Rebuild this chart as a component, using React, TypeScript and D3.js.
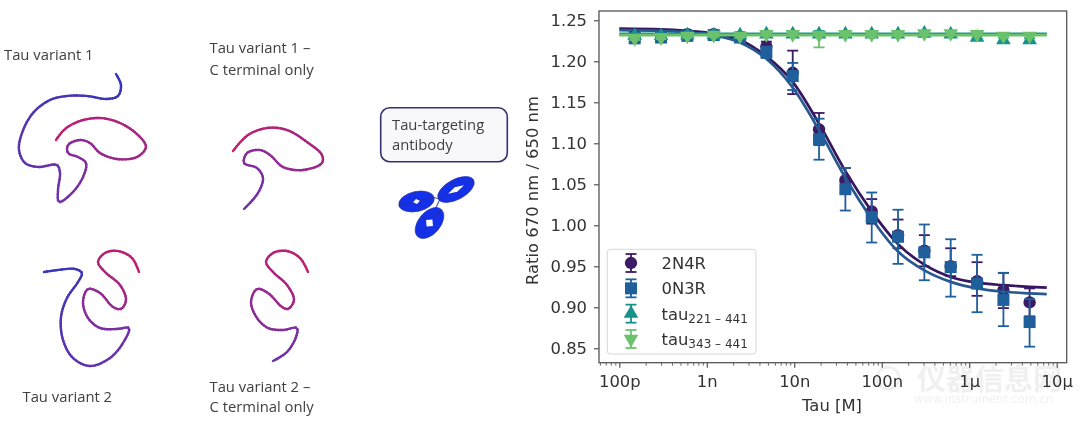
import React, { useEffect, useRef } from 'react';
import * as d3 from 'd3';

// dilution series, molar
const conc = [1.5e-10, 3e-10, 6e-10, 1.2e-9, 2.4e-9, 4.8e-9, 9.6e-9, 1.92e-8, 3.84e-8, 7.68e-8, 1.536e-7, 3.07e-7, 6.14e-7, 1.23e-6, 2.46e-6, 4.9e-6];

const mean2N4R = [1.233, 1.232, 1.233, 1.233, 1.230, 1.218, 1.186, 1.117, 1.055, 1.017, 0.988, 0.969, 0.950, 0.932, 0.921, 0.906];
const low2N4R = [1.229, 1.228, 1.230, 1.230, 1.226, 1.210, 1.160, 1.098, 1.040, 1.002, 0.972, 0.950, 0.938, 0.914, 0.899, 0.889];
const high2N4R = [1.237, 1.236, 1.236, 1.236, 1.234, 1.224, 1.213, 1.137, 1.070, 1.032, 1.007, 0.988, 0.972, 0.955, 0.942, 0.923];

const mean0N3R = [1.228, 1.229, 1.231, 1.232, 1.229, 1.211, 1.182, 1.105, 1.044, 1.010, 0.986, 0.967, 0.949, 0.929, 0.909, 0.882];
const low0N3R = [1.225, 1.226, 1.228, 1.229, 1.226, 1.204, 1.165, 1.080, 1.018, 0.979, 0.953, 0.933, 0.913, 0.894, 0.877, 0.852];
const high0N3R = [1.231, 1.232, 1.234, 1.235, 1.232, 1.218, 1.198, 1.130, 1.070, 1.040, 1.019, 1.001, 0.983, 0.964, 0.942, 0.910];

const mean221 = [1.231, 1.231, 1.232, 1.232, 1.232, 1.233, 1.233, 1.233, 1.233, 1.233, 1.233, 1.234, 1.233, 1.229, 1.226, 1.226];
const low221 = [1.229, 1.229, 1.230, 1.230, 1.230, 1.231, 1.231, 1.231, 1.231, 1.231, 1.231, 1.232, 1.231, 1.227, 1.223, 1.224];
const high221 = [1.233, 1.233, 1.234, 1.234, 1.234, 1.235, 1.235, 1.237, 1.235, 1.235, 1.235, 1.236, 1.235, 1.231, 1.229, 1.228];

const mean343 = [1.228, 1.229, 1.231, 1.232, 1.231, 1.233, 1.233, 1.232, 1.233, 1.233, 1.233, 1.234, 1.234, 1.233, 1.231, 1.231];
const low343 = [1.226, 1.227, 1.229, 1.230, 1.229, 1.231, 1.231, 1.217, 1.231, 1.229, 1.231, 1.232, 1.232, 1.231, 1.229, 1.229];
const high343 = [1.230, 1.231, 1.233, 1.234, 1.233, 1.235, 1.235, 1.235, 1.235, 1.235, 1.235, 1.236, 1.236, 1.235, 1.233, 1.233];

// fitted curves at these concentrations
const fitConc = [1e-10, 3e-10, 6e-10, 1.2e-9, 2.4e-9, 4.8e-9, 9.6e-9, 1.92e-8, 3.84e-8, 7.68e-8, 1.536e-7, 3.07e-7, 6.14e-7, 1.23e-6, 2.46e-6, 4.9e-6, 7.7e-6];
const fit2N4R = [1.240, 1.239, 1.237, 1.234, 1.226, 1.206, 1.175, 1.124, 1.066, 1.017, 0.977, 0.952, 0.937, 0.930, 0.927, 0.925, 0.924];
const fit0N3R = [1.238, 1.237, 1.235, 1.232, 1.223, 1.203, 1.168, 1.116, 1.058, 1.008, 0.968, 0.945, 0.931, 0.923, 0.919, 0.917, 0.916];
const flatConc = [1e-10, 7.7e-6];
const fit221 = [1.2335, 1.2335];
const fit343 = [1.2318, 1.2318];

const yTicks = [0.85, 0.9, 0.95, 1.0, 1.05, 1.1, 1.15, 1.2, 1.25];
const xTicks = [1e-10, 1e-9, 1e-8, 1e-7, 1e-6, 1e-5];
const xTickLabels = ['100p', '1n', '10n', '100n', '1µ', '10µ'];

// protein cartoons, traced from N end to C end
const tau1: [number, number][] = [[116, 74], [121, 85], [118, 96], [107, 99], [87, 96], [67, 96], [50, 100], [33, 113], [22, 133], [19, 150], [25, 163], [38, 167], [57, 165], [60, 173], [58, 190], [59, 202], [72, 193], [83, 177], [86, 163], [78, 157], [68, 153], [68, 145], [80, 140], [90, 143], [100, 153], [117, 159], [137, 157], [146, 147], [138, 135], [120, 123], [100, 118], [80, 121], [65, 129], [56, 140]];
const tau1C: [number, number][] = [[244, 209], [258, 193], [263, 178], [257, 168], [244, 163], [247, 153], [260, 150], [270, 155], [283, 167], [303, 170], [322, 163], [322, 155], [307, 142], [287, 130], [267, 128], [248, 135], [233, 151]];
const tau2: [number, number][] = [[44, 272], [58, 270], [75, 269], [82, 273], [78, 282], [67, 298], [61, 317], [63, 340], [73, 358], [90, 366], [110, 358], [123, 343], [129, 328], [117, 329], [100, 328], [88, 318], [83, 302], [88, 289], [100, 293], [113, 307], [121, 309], [126, 300], [120, 285], [105, 272], [98, 262], [105, 253], [118, 251], [132, 258], [139, 272]];
const tau2C: [number, number][] = [[273, 361], [287, 352], [296, 337], [297, 328], [283, 330], [268, 328], [257, 318], [251, 302], [257, 289], [268, 293], [282, 307], [288, 309], [294, 300], [287, 285], [273, 272], [266, 262], [273, 253], [287, 251], [300, 258], [308, 272]];

const TEXT = '#333333';
const SLIDE_TEXT = '#404040';
const FONT = '"DejaVu Sans", sans-serif';
const SLIDE_FONT = '"Open Sans", sans-serif';

export default function App() {
  const svgRef = useRef<SVGSVGElement | null>(null);

  useEffect(() => {
    const svg = d3.select(svgRef.current);
    svg.selectAll('*').remove();

    // --- Left side: protein cartoons ---
    const lineGen = d3.line().curve(d3.curveCatmullRom.alpha(0.5));
    const proteinColor = d3.scaleLinear<string>()
      .domain([0, 0.45, 1])
      .range(['#3535bd', '#6f33a8', '#c21f6e']);

    const drawProtein = (pts: [number, number][], from: number) => {
      const tmp = svg.append('path').attr('d', lineGen(pts)).attr('fill', 'none');
      const node = tmp.node() as SVGPathElement;
      const total = node.getTotalLength();
      const n = Math.ceil(total / 3);
      for (let i = 0; i < n; i++) {
        const a = node.getPointAtLength((i / n) * total);
        const b = node.getPointAtLength(((i + 1) / n) * total);
        svg.append('line')
          .attr('x1', a.x).attr('y1', a.y).attr('x2', b.x).attr('y2', b.y)
          .attr('stroke', proteinColor(from + (1 - from) * (i / n)))
          .attr('stroke-width', 2.4)
          .attr('stroke-linecap', 'round');
      }
      tmp.remove();
    };
    drawProtein(tau1, 0);
    drawProtein(tau1C, 0.45);
    drawProtein(tau2, 0);
    drawProtein(tau2C, 0.45);

    const slideText = (s: string, x: number, y: number) =>
      svg.append('text').attr('x', x).attr('y', y).text(s)
        .attr('fill', SLIDE_TEXT).style('font-family', SLIDE_FONT).style('font-size', '14.8px');
    slideText('Tau variant 1', 4, 60);
    slideText('Tau variant 1 –', 209.5, 53);
    slideText('C terminal only', 209.5, 75);
    slideText('Tau variant 2', 22.5, 401.5);
    slideText('Tau variant 2 –', 209.5, 391.5);
    slideText('C terminal only', 209.5, 412);

    // --- Antibody label and glyph ---
    svg.append('rect')
      .attr('x', 380.7).attr('y', 107.7).attr('width', 126.6).attr('height', 54).attr('rx', 9)
      .attr('fill', '#f8f8fb').attr('stroke', '#35306e').attr('stroke-width', 1.6);
    slideText('Tau-targeting', 392, 130);
    slideText('antibody', 392, 150);

    svg.append('path').attr('d', 'M440,199 L427,196 M440,199 L434,212 M440,199 L444,195')
      .attr('stroke', '#555a90').attr('stroke-width', 1.2).attr('fill', 'none');
    const arms = [
      { cx: 456, cy: 189.5, len: 20, w: 10, rot: -28, dl: 9, dw: 2.6 },
      { cx: 416.5, cy: 201.5, len: 18, w: 10, rot: -12, dl: 3.4, dw: 2.6 },
      { cx: 429.5, cy: 223, len: 18, w: 11, rot: -50, dl: 4.5, dw: 4.5 },
    ];
    arms.forEach(a => {
      const g = svg.append('g').attr('transform', `translate(${a.cx},${a.cy}) rotate(${a.rot})`);
      g.append('ellipse').attr('rx', a.len).attr('ry', a.w)
        .attr('fill', '#1430e8').attr('stroke', '#2430a0').attr('stroke-width', 0.6);
      g.append('path')
        .attr('d', `M${-a.len},0 L${-a.dl},0 M${a.dl},0 L${a.len},0 M0,${-a.w} L0,${-a.dw} M0,${a.dw} L0,${a.w}`)
        .attr('stroke', '#2430a0').attr('stroke-width', 0.7);
      g.append('path').attr('d', `M${-a.dl},0 L0,${-a.dw} L${a.dl},0 L0,${a.dw} Z`).attr('fill', '#ffffff');
    });

    // --- Watermark sits under the plot text ---
    svg.append('circle').attr('cx', 888).attr('cy', 378).attr('r', 11)
      .attr('fill', 'none').attr('stroke', '#f0f0f0').attr('stroke-width', 3);
    svg.append('text').attr('x', 917).attr('y', 390).text('仪器信息网')
      .attr('fill', '#f0f0f0')
      .style('font-family', '"Noto Sans CJK SC"').style('font-size', '29px').style('font-weight', 700);
    svg.append('text').attr('x', 914).attr('y', 403).text('www.instrument.com.cn')
      .attr('fill', '#f1f1f1')
      .style('font-family', FONT).style('font-size', '11.5px');

    // --- Chart scales ---
    const frame = { left: 599, right: 1066.7, top: 11, bottom: 362.7 };
    const x = d3.scaleLog().domain([1e-10, 1e-5]).range([619.3, 1056.7]);
    const y = d3.scaleLinear().domain([0.85, 1.25]).range([348.3, 20.3]);

    // --- Axes ---
    const minor: number[] = [];
    [1e-11, 1e-10, 1e-9, 1e-8, 1e-7, 1e-6, 1e-5].forEach(d => {
      d3.range(2, 10).forEach(m => {
        const px = x(d * m);
        if (px >= frame.left && px <= frame.right) minor.push(d * m);
      });
    });

    const xAxis = svg.append('g')
      .attr('transform', `translate(0,${frame.bottom})`)
      .call(d3.axisBottom(x).tickValues(xTicks).tickSize(5).tickPadding(7.5)
        .tickFormat((_, i) => xTickLabels[i]));
    svg.append('g')
      .attr('transform', `translate(0,${frame.bottom})`)
      .call(d3.axisBottom(x).tickValues(minor).tickSize(3).tickFormat(() => ''))
      .call(g => g.select('.domain').remove())
      .selectAll('line').attr('stroke', '#444').attr('stroke-width', 0.8);
    const yAxis = svg.append('g')
      .attr('transform', `translate(${frame.left},0)`)
      .call(d3.axisLeft(y).tickValues(yTicks).tickSize(5).tickPadding(7)
        .tickFormat(d3.format('.2f') as any));
    [xAxis, yAxis].forEach(a => {
      a.select('.domain').remove();
      a.selectAll('line').attr('stroke', '#444').attr('stroke-width', 1.1);
      a.selectAll('text')
        .attr('fill', TEXT)
        .style('font-family', FONT).style('font-size', '16.4px');
    });

    svg.append('text')
      .attr('transform', 'translate(538,190.5) rotate(-90)')
      .attr('text-anchor', 'middle').text('Ratio 670 nm / 650 nm')
      .attr('fill', TEXT).style('font-family', FONT).style('font-size', '16.4px');
    svg.append('text')
      .attr('x', 832).attr('y', 411).attr('text-anchor', 'middle').text('Tau [M]')
      .attr('fill', TEXT).style('font-family', FONT).style('font-size', '16.4px');

    // --- Series ---
    const symbolPath = (type: d3.SymbolType, size: number) => d3.symbol().type(type).size(size)() as string;
    const series = [
      { name: '2N4R', color: '#3d1a66', lineColor: '#34175f', mean: mean2N4R, low: low2N4R, high: high2N4R, fx: fitConc, fy: fit2N4R, shape: symbolPath(d3.symbolCircle, 120), rot: 0 },
      { name: '0N3R', color: '#1f5f9b', lineColor: '#27588f', mean: mean0N3R, low: low0N3R, high: high0N3R, fx: fitConc, fy: fit0N3R, shape: symbolPath(d3.symbolSquare, 144), rot: 0 },
      { name: 'tau', sub: '221 – 441', color: '#17928a', lineColor: '#17928a', mean: mean221, low: low221, high: high221, fx: flatConc, fy: fit221, shape: symbolPath(d3.symbolTriangle, 92), rot: 0 },
      { name: 'tau', sub: '343 – 441', color: '#6cc26c', lineColor: '#6cc26c', mean: mean343, low: low343, high: high343, fx: flatConc, fy: fit343, shape: symbolPath(d3.symbolTriangle, 92), rot: 180 },
    ];

    const CAP = 5.5;
    series.forEach(s => {
      const g = svg.append('g');
      const line = d3.line<[number, number]>()
        .x(d => x(d[0])).y(d => y(d[1]))
        .curve(d3.curveMonotoneX);
      g.append('path')
        .attr('d', line(s.fx.map((c, i) => [c, s.fy[i]] as [number, number])))
        .attr('fill', 'none').attr('stroke', s.lineColor).attr('stroke-width', 2.7);

      conc.forEach((c, i) => {
        const px = x(c);
        g.append('line').attr('x1', px).attr('x2', px).attr('y1', y(s.low[i])).attr('y2', y(s.high[i]))
          .attr('stroke', s.color).attr('stroke-width', 1.8);
        [s.low[i], s.high[i]].forEach(v => {
          g.append('line').attr('x1', px - CAP).attr('x2', px + CAP).attr('y1', y(v)).attr('y2', y(v))
            .attr('stroke', s.color).attr('stroke-width', 1.8);
        });
        g.append('path').attr('d', s.shape)
          .attr('transform', `translate(${px},${y(s.mean[i])}) rotate(${s.rot})`)
          .attr('fill', s.color);
      });
    });

    // --- Frame ---
    svg.append('rect')
      .attr('x', frame.left).attr('y', frame.top)
      .attr('width', frame.right - frame.left).attr('height', frame.bottom - frame.top)
      .attr('fill', 'none').attr('stroke', '#555').attr('stroke-width', 1.3);

    // --- Legend ---
    svg.append('rect')
      .attr('x', 607.3).attr('y', 249.3).attr('width', 148.7).attr('height', 104.7).attr('rx', 3)
      .attr('fill', '#ffffff').attr('fill-opacity', 0.9).attr('stroke', '#d8d8d8').attr('stroke-width', 1);
    const legendY = d3.scalePoint<number>().domain([0, 1, 2, 3]).range([263, 339]);
    series.forEach((s, i) => {
      const ly = legendY(i) as number;
      const g = svg.append('g').attr('transform', `translate(631,${ly})`);
      g.append('line').attr('y1', -9).attr('y2', 9).attr('stroke', s.color).attr('stroke-width', 1.8);
      [-9, 9].forEach(v => {
        g.append('line').attr('x1', -CAP).attr('x2', CAP).attr('y1', v).attr('y2', v)
          .attr('stroke', s.color).attr('stroke-width', 1.8);
      });
      g.append('path').attr('d', s.shape).attr('transform', `rotate(${s.rot})`).attr('fill', s.color);
      const t = svg.append('text').attr('x', 661.5).attr('y', ly + 6)
        .attr('fill', TEXT).style('font-family', FONT).style('font-size', '16.4px');
      t.append('tspan').text(s.name);
      if (s.sub) {
        t.append('tspan').attr('dy', 3).style('font-size', '12px').text(s.sub);
      }
    });
  }, []);

  return (
    <div style={{ position: 'absolute', left: 0, top: 0 }}>
      <svg ref={svgRef} width={1080} height={423} style={{ display: 'block', background: '#fff', filter: 'blur(0.4px)' }} />
    </div>
  );
}
